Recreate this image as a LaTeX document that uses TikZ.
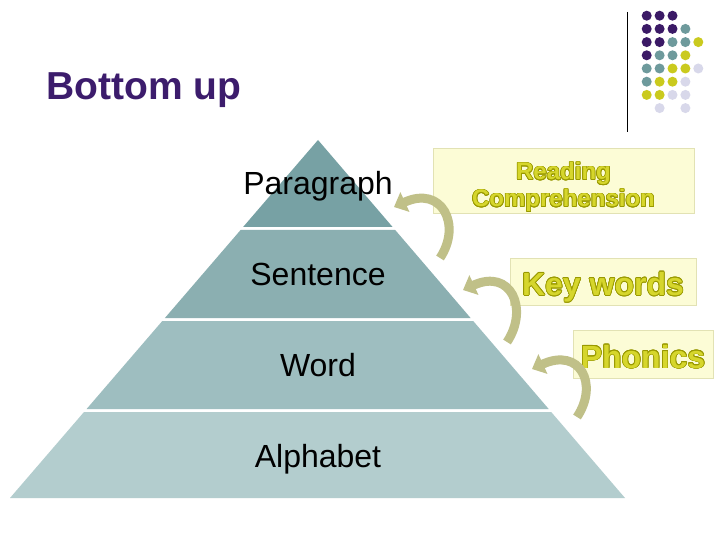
\documentclass[tikz,border=0pt]{standalone}
\usepackage{fontspec}
\setmainfont{Liberation Sans}
\usepackage{contour}
\usetikzlibrary{arrows.meta}

\definecolor{titlepurple}{HTML}{3C1C6C}
\definecolor{tierA}{HTML}{77A1A4}
\definecolor{tierB}{HTML}{8BAFB1}
\definecolor{tierC}{HTML}{9EBEC0}
\definecolor{tierD}{HTML}{B3CDCE}
\definecolor{boxfill}{HTML}{FCFCD6}
\definecolor{boxline}{HTML}{E2E2B4}
\definecolor{labelfill}{HTML}{D6D62C}
\definecolor{labelline}{HTML}{999900}
\definecolor{arrowolive}{HTML}{C0C088}
\definecolor{dotP}{HTML}{3B1A66}
\definecolor{dotT}{HTML}{6E9A9C}
\definecolor{dotY}{HTML}{CACA1E}
\definecolor{dotL}{HTML}{D8D8EA}

\contourlength{0.7pt}
\newcommand{\glowtext}[1]{\contour{labelline}{\textcolor{labelfill}{#1}}}

\tikzset{
  tierlabel/.style={font=\fontsize{32}{36}\selectfont, anchor=base},
  skillbox/.style={draw=boxline, fill=boxfill, line width=0.8pt, inner sep=0pt},
  skilltext/.style={align=center, inner sep=0pt},
  bendarrow/.style={draw=arrowolive, line width=9pt, -{Triangle[width=21pt,length=12pt]}}
}

\begin{document}
\begin{tikzpicture}[x=1pt, y=-1pt]
  \useasboundingbox[fill=white] (0,0) rectangle (720,540);

  % Title and corner decoration
  \node[anchor=base west, text=titlepurple, font=\bfseries\fontsize{39}{42}\selectfont]
    (title) at (43,100) {Bottom up};
  \draw[line width=0.8pt] (627,12) -- (627,132);
  \foreach \c/\r/\clr in {0/0/dotP, 1/0/dotP, 2/0/dotP,
                          0/1/dotP, 1/1/dotP, 2/1/dotP, 3/1/dotT,
                          0/2/dotP, 1/2/dotP, 2/2/dotT, 3/2/dotT, 4/2/dotY,
                          0/3/dotP, 1/3/dotT, 2/3/dotT, 3/3/dotY,
                          0/4/dotT, 1/4/dotT, 2/4/dotY, 3/4/dotY, 4/4/dotL,
                          0/5/dotT, 1/5/dotY, 2/5/dotY, 3/5/dotL,
                          0/6/dotY, 1/6/dotY, 2/6/dotL, 3/6/dotL,
                          1/7/dotL, 3/7/dotL}
    \fill[\clr] (646.7+12.9*\c, 15.7+13.2*\r) circle (5);

  % Pyramid tiers
  \fill[tierA] (318,140) -- (392.6,227) -- (243.1,227) -- cycle;
  \fill[tierB] (240.6,230) -- (395.2,230) -- (470.6,318) -- (164.9,318) -- cycle;
  \fill[tierC] (162.3,321) -- (473.2,321) -- (548.7,409) -- (86.6,409) -- cycle;
  \fill[tierD] (84.0,412) -- (551.2,412) -- (625,498) -- (10,498) -- cycle;

  \node[tierlabel] (paragraph) at (318,195) {Paragraph};
  \node[tierlabel] (sentence)  at (318,285) {Sentence};
  \node[tierlabel] (word)      at (318,376) {Word};
  \node[tierlabel] (alphabet)  at (318,467) {Alphabet};

  % Skill boxes
  \node[skillbox, minimum width=261, minimum height=65] (reading) at (563.5,180.5) {};
  \node[skilltext, font=\bfseries\fontsize{24}{27}\selectfont]
    (readingtext) at ([yshift=-7pt]reading.center) {\glowtext{Reading}\\\glowtext{Comprehension}};
  \node[skillbox, minimum width=186, minimum height=47] (keywords) at (603,281.5) {};
  \node[skilltext, font=\bfseries\fontsize{32}{34}\selectfont]
    (keywordstext) at ([yshift=-6pt]keywords.center) {\glowtext{Key words}};
  \node[skillbox, minimum width=140, minimum height=48] (phonics) at (643,354) {};
  \node[skilltext, font=\bfseries\fontsize{32}{34}\selectfont]
    (phonicstext) at ([yshift=-3pt]phonics.center) {\glowtext{Phonics}};

  % Curved arrows
  \coordinate (tail1) at (440,258);
  \coordinate (head1) at (394,207);
  \coordinate (tail2) at (507,342);
  \coordinate (head2) at (463,290);
  \coordinate (tail3) at (577,417);
  \coordinate (head3) at (532,369);

  \draw[bendarrow] (tail1) .. controls +(22,-33) and +(48,-22) .. (head1);
  \draw[bendarrow] (tail2) .. controls +(22,-33) and +(48,-22) .. (head2);
  \draw[bendarrow] (tail3) .. controls +(22,-33) and +(48,-22) .. (head3);
\end{tikzpicture}
\end{document}
